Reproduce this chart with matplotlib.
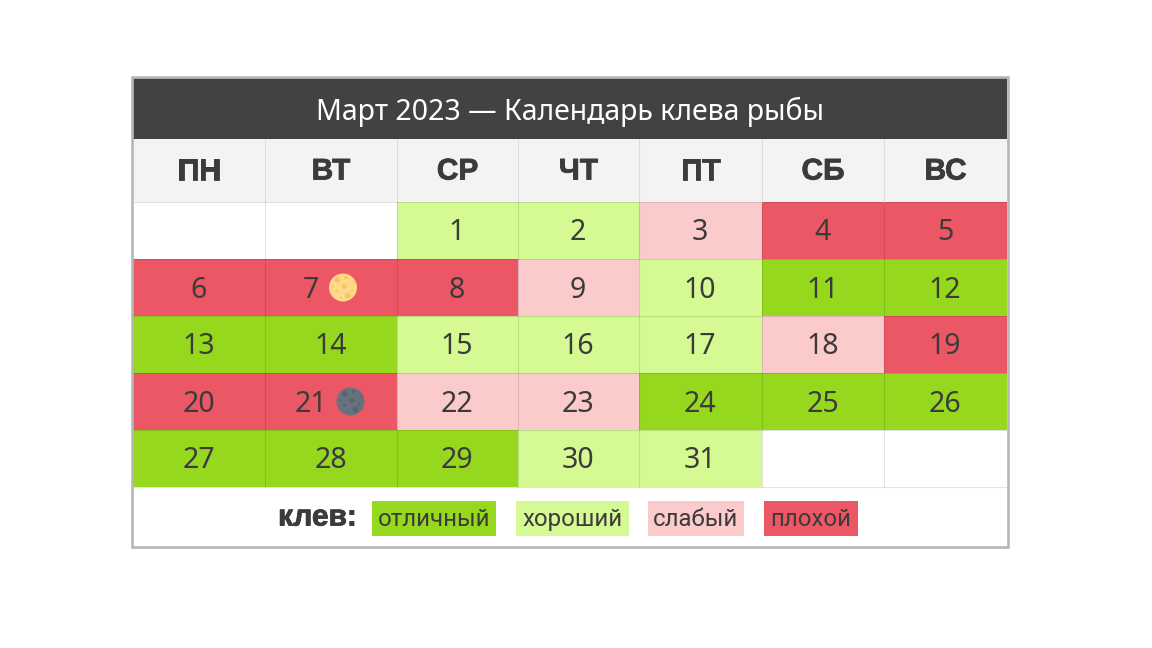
import numpy as np
import matplotlib
matplotlib.use('Agg')
import matplotlib.pyplot as plt
import matplotlib.patheffects as pe
from matplotlib.colors import ListedColormap
from matplotlib.patches import Rectangle, Circle

plt.rcParams['font.family'] = ['Noto Sans', 'DejaVu Sans']

title = 'Март 2023 — Календарь клева рыбы'
weekdays = ['ПН', 'ВТ', 'СР', 'ЧТ', 'ПТ', 'СБ', 'ВС']
legend_title = 'клев:'
legend_names = ['отличный', 'хороший', 'слабый', 'плохой']
colors = ['#96d81e', '#d5f993', '#fbcaca', '#ec5766']

# 0 excellent, 1 good, 2 weak, 3 bad, -1 empty cell
levels = [[-1, -1, 1, 1, 2, 3, 3],
          [3, 3, 3, 2, 1, 0, 0],
          [0, 0, 1, 1, 1, 2, 3],
          [3, 3, 2, 2, 0, 0, 0],
          [0, 0, 0, 1, 1, -1, -1]]
days = [[0, 0, 1, 2, 3, 4, 5],
        [6, 7, 8, 9, 10, 11, 12],
        [13, 14, 15, 16, 17, 18, 19],
        [20, 21, 22, 23, 24, 25, 26],
        [27, 28, 29, 30, 31, 0, 0]]
full_moon_day = 7
new_moon_day = 21

# table layout in pixels
col_edges = [133, 265, 397, 518, 639, 762, 884, 1007]
row_edges = [202, 259, 316, 373, 430, 487]
legend_x = [(372, 496), (516, 629), (648, 744), (764, 858)]
text_col = '#3b3b3b'
line_col = '#dedede'
bold_font = 'Liberation Sans'
heavier = [pe.withStroke(linewidth=0.6, foreground=text_col)]

# crater offsets from moon centre, px: dx, dy, r
craters = [(-5.7, -7.7, 2.8), (1.3, -1, 2.4), (5, 8, 2.8), (-6, 3.7, 1.4), (3, -10, 1.7),
           (11, -5, 1.2), (-2, 10, 1), (-10, -1, 1), (9, 3, 1.2)]


def draw_moon(ax, x, y, body, spot):
    ax.add_patch(Circle((x, y), 14, fc=body, ec='none', zorder=5))
    for dx, dy, r in craters:
        ax.add_patch(Circle((x + dx, y + dy), r, fc=spot, ec='none', zorder=6))


fig = plt.figure(figsize=(11.52, 6.48), dpi=100)
ax = fig.add_axes([0, 0, 1, 1])
ax.set_xlim(0, 1152)
ax.set_ylim(648, 0)
ax.axis('off')

# title band
ax.add_patch(Rectangle((133, 78), 874, 61, fc='#424242', ec='none'))
ax.text(570, 112, title, color='white', fontsize=20.5, ha='center', va='center')

# weekday header
ax.add_patch(Rectangle((133, 139), 874, 63, fc='#f3f3f3', ec='none'))
for i, name in enumerate(weekdays):
    xc = (col_edges[i] + col_edges[i + 1]) / 2
    ax.text(xc, 171.5, name, color=text_col, fontsize=21.5, fontweight='bold',
            family=bold_font, ha='center', va='center', path_effects=heavier)
    if i > 0:
        ax.plot([col_edges[i] - 0.5] * 2, [139, 202], color=line_col, lw=0.75)

# calendar cells
grid = np.ma.masked_less(np.array(levels), 0)
ax.pcolormesh(col_edges, row_edges, grid, cmap=ListedColormap(colors), vmin=-0.5, vmax=3.5)
for x in col_edges[1:-1]:
    ax.plot([x - 0.5] * 2, [202, 487], color=(0, 0, 0, 0.11), lw=0.75, zorder=2)
for y in row_edges:
    ax.plot([134, 1006], [y - 0.5, y - 0.5], color=(0, 0, 0, 0.11), lw=0.75, zorder=2)

for r, row in enumerate(days):
    yc = (row_edges[r] + row_edges[r + 1]) / 2 + 2.5
    for c, d in enumerate(row):
        if d == 0:
            continue
        xc = (col_edges[c] + col_edges[c + 1]) / 2 - 0.5
        if d == full_moon_day or d == new_moon_day:
            xc = xc - 20
        ax.text(xc, yc, str(d), color=text_col, fontsize=20.5, ha='center', va='center', zorder=4)
        if d == full_moon_day:
            draw_moon(ax, xc + 32.5, yc - 2.5, '#ffd98a', '#fcc45a')
        if d == new_moon_day:
            draw_moon(ax, xc + 40, yc - 2.5, '#67727e', '#58636e')

# legend row
ax.text(317.5, 517.5, legend_title, color=text_col, fontsize=21.5, fontweight='bold',
        family=bold_font, ha='center', va='center', path_effects=heavier)
for (x0, x1), name, col in zip(legend_x, legend_names, colors):
    ax.add_patch(Rectangle((x0, 501), x1 - x0, 35, fc=col, ec='none'))
    ax.text((x0 + x1) / 2, 519.5, name, color=text_col, fontsize=17.3, family='Roboto',
            ha='center', va='center')

# outer frame on top of everything
ax.add_patch(Rectangle((132, 76.5), 875.5, 470.5, fc='none', ec='#b7b7b7', lw=1.9, zorder=7))

fig.savefig('out.png', dpi=100)
